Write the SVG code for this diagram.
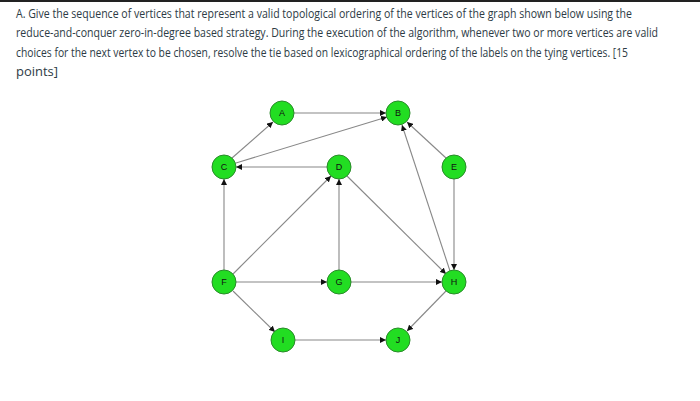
<svg xmlns="http://www.w3.org/2000/svg" width="700" height="401" viewBox="0 0 700 401">
<style>
.t{font-family:"Open Sans","Liberation Sans",sans-serif;font-size:12.5px;fill:#2d3b45}
.n circle{fill:#22dd22;stroke:#2a8a2a;stroke-width:1}
.n text{font-family:"Liberation Sans",Arial,sans-serif;font-size:9px;fill:#111;text-anchor:middle}
#edges line{stroke:#888;stroke-width:1.1;marker-end:url(#ah)}
</style>
<defs><marker id="ah" viewBox="0 0 10 10" refX="10" refY="5" markerWidth="6" markerHeight="6" orient="auto" markerUnits="userSpaceOnUse"><path d="M0,0L10,5L0,10z" fill="#111"/></marker></defs>
<rect width="700" height="401" fill="#fff"/>
<rect width="700" height="2" fill="#222"/>
<text class="t" x="16" y="18" textLength="616" lengthAdjust="spacingAndGlyphs">A. Give the sequence of vertices that represent a valid topological ordering of the vertices of the graph shown below using the</text>
<text class="t" x="16" y="37" textLength="642" lengthAdjust="spacingAndGlyphs">reduce-and-conquer zero-in-degree based strategy. During the execution of the algorithm, whenever two or more vertices are valid</text>
<text class="t" x="16" y="57" textLength="612" lengthAdjust="spacingAndGlyphs">choices for the next vertex to be chosen, resolve the tie based on lexicographical ordering of the labels on the tying vertices. [15</text>
<text class="t" x="16" y="76" textLength="42" lengthAdjust="spacingAndGlyphs">points]</text>
<g id="edges">
<line x1="294" y1="113" x2="386" y2="113"/>
<line x1="232" y1="158" x2="273" y2="122"/>
<line x1="236" y1="163" x2="387" y2="117"/>
<line x1="327" y1="167" x2="236" y2="167"/>
<line x1="224" y1="270" x2="224" y2="179"/>
<line x1="233" y1="274" x2="331" y2="176"/>
<line x1="339" y1="270" x2="339" y2="179"/>
<line x1="347" y1="176" x2="446" y2="274"/>
<line x1="446" y1="158" x2="407" y2="122"/>
<line x1="454" y1="179" x2="454" y2="270"/>
<line x1="450" y1="271" x2="402" y2="125"/>
<line x1="236" y1="282" x2="327" y2="282"/>
<line x1="351" y1="282" x2="442" y2="282"/>
<line x1="233" y1="291" x2="275" y2="332"/>
<line x1="295" y1="340" x2="386" y2="340"/>
<line x1="446" y1="291" x2="407" y2="331"/>
</g>
<g id="A" class="n"><circle cx="282" cy="113" r="12"/><text x="282" y="116">A</text></g>
<g id="B" class="n"><circle cx="398" cy="113" r="12"/><text x="398" y="116">B</text></g>
<g id="C" class="n"><circle cx="224" cy="167" r="12"/><text x="224" y="170">C</text></g>
<g id="D" class="n"><circle cx="339" cy="167" r="12"/><text x="339" y="170">D</text></g>
<g id="E" class="n"><circle cx="454" cy="167" r="12"/><text x="454" y="170">E</text></g>
<g id="F" class="n"><circle cx="224" cy="282" r="12"/><text x="224" y="285">F</text></g>
<g id="G" class="n"><circle cx="339" cy="282" r="12"/><text x="339" y="285">G</text></g>
<g id="H" class="n"><circle cx="454" cy="282" r="12"/><text x="454" y="285">H</text></g>
<g id="I" class="n"><circle cx="283" cy="340" r="12"/><text x="283" y="343">I</text></g>
<g id="J" class="n"><circle cx="398" cy="340" r="12"/><text x="398" y="343">J</text></g>
</svg>
